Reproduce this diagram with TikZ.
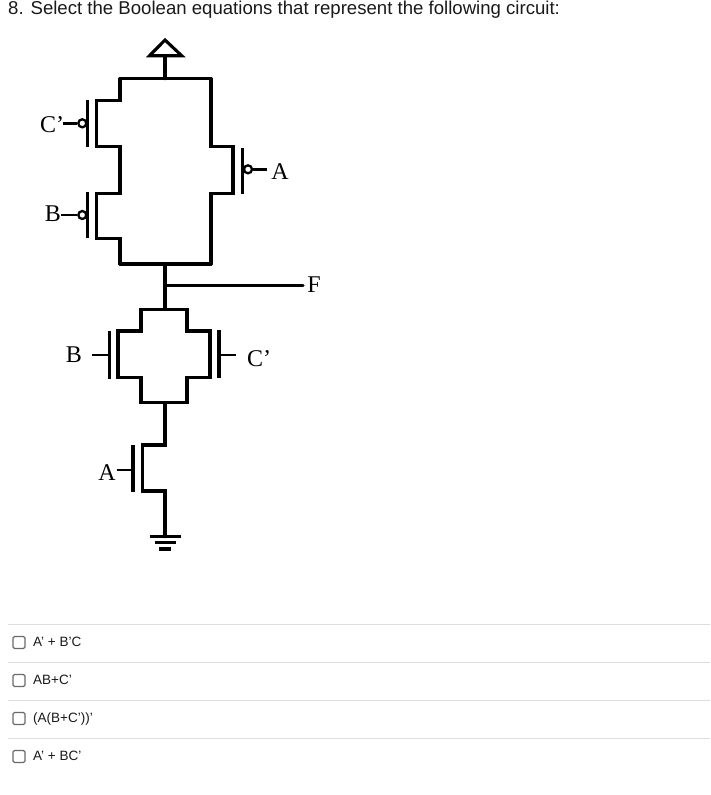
\documentclass[tikz,border=0pt]{standalone}
\usepackage{fontspec}
\setmainfont{Liberation Sans}
\newfontfamily\serifcirc{Liberation Serif}
\definecolor{rulegrey}{HTML}{DDDDDD}
\definecolor{boxgrey}{HTML}{6A6A6A}
\definecolor{qtext}{HTML}{1A1A1A}
\tikzset{
  wire/.style={line width=3.1pt,black,line cap=round,line join=miter},
  lead/.style={line width=2.7pt,black},
  gatebar/.style={line width=3.3pt,black},
  bubble/.style={circle,draw=black,fill=white,line width=2.3pt,minimum size=8pt,inner sep=0pt},
  siglabel/.style={font=\serifcirc\fontsize{24}{24}\selectfont,inner sep=0pt,text=black},
  question/.style={font=\fontsize{18.6}{20}\selectfont,inner sep=0pt,anchor=base west,text=qtext},
  answer/.style={font=\fontsize{13.5}{16}\selectfont,inner sep=0pt,anchor=base west,text=qtext},
  tick/.style={draw=boxgrey,line width=1.3pt,rounded corners=1.5pt,minimum size=12pt,inner sep=0pt},
  sep/.style={draw=rulegrey,line width=1pt}
}
\begin{document}
\begin{tikzpicture}[x=1pt,y=-1pt]
\useasboundingbox (0,0) rectangle (710,795);
\clip (0,0) rectangle (710,795);
\fill[white] (0,0) rectangle (710,795);

\node[question] (q) at (8,14) {8. Select the Boolean equations that represent the following circuit:};

% supply
\coordinate (vddL) at (149.5,55.7);
\coordinate (vddR) at (181.7,55.7);
\coordinate (vddA) at (165,40);
\coordinate (vddS) at (165,55.7);
\coordinate (topM) at (165,78.7);
\coordinate (topL) at (120,78.7);
\coordinate (topR) at (211,78.7);
\coordinate (botL) at (120,264);
\coordinate (botR) at (211,264);
\coordinate (botM) at (165,264);
\draw[wire,line join=miter] (vddA) -- (vddR) -- (vddL) -- cycle;
\draw[wire] (vddS) -- (topM);

% pull-up network
\draw[wire] (topL) -- (topR);
\draw[wire] (botL) -- (botR);
\draw[wire] (topL) -- (120,100.7) -- (96.7,100.7) -- (96.7,146.7) -- (120,146.7)
  -- (120,193.3) -- (96.7,193.3) -- (96.7,238.3) -- (120,238.3) -- (botL);
\draw[wire] (topR) -- (211,146.7) -- (233,146.7) -- (233,193.3) -- (211,193.3) -- (botR);

% P gates
\draw[gatebar] (87.7,100) -- (87.7,147);
\draw[gatebar] (87.7,192) -- (87.7,238);
\draw[gatebar] (242.7,148) -- (242.7,193.5);
\node[bubble] (bC) at (82.3,123.3) {};
\node[bubble] (bB) at (82.3,215) {};
\node[bubble] (bA) at (248,169.3) {};
\node[siglabel] (lC) at (52,124.5) {C’};
\node[siglabel] (lB) at (53,213.5) {B};
\node[siglabel] (lA) at (280,172) {A};
\draw[lead] (63,123.3) -- (bC);
\draw[lead] (lB.east) ++(0,1.5) -- (bB);
\draw[lead] (bA) -- (267,169.3);

% output
\coordinate (outJ) at (165,285.7);
\coordinate (nTop) at (165,309.3);
\node[siglabel] (lF) at (314,285) {F};
\draw[wire] (botM) -- (nTop);
\draw[wire] (outJ) -- (303,285.7);

% pull-down parallel pair
\draw[wire] (141,309.3) -- (187,309.3) -- (187,331) -- (210,331) -- (210,377.3) -- (187,377.3)
  -- (187,402.7) -- (141,402.7) -- (141,377.7) -- (118,377.7) -- (118,331) -- (141,331) -- cycle;
\draw[gatebar] (109.3,331) -- (109.3,378.7);
\draw[gatebar] (219,330) -- (219,377.5);
\coordinate (gB) at (109.3,355);
\coordinate (gC) at (219,355);
\node[siglabel] (lB2) at (74,355) {B};
\node[siglabel] (lC2) at (259,359) {C’};
\draw[lead] (92,355) -- (gB);
\draw[lead] (gC) -- (236,355);

% pull-down series device
\coordinate (nMid) at (165,402.7);
\coordinate (gnd) at (165,536.7);
\draw[wire] (nMid) -- (165,445) -- (142.3,445) -- (142.3,491) -- (165,491) -- (gnd);
\draw[gatebar] (133,445) -- (133,492);
\coordinate (gA) at (133,470);
\node[siglabel] (lA2) at (107,473) {A};
\draw[lead] (116.7,470) -- (gA);

% ground
\draw[wire,line cap=butt] (150,536.7) -- (180.5,536.7);
\draw[wire,line cap=butt] (155,542.5) -- (176,542.5);
\draw[wire,line cap=butt] (159,549) -- (171,549);

% answers
\foreach \y in {624.5,662.5,700.5,738.5} \draw[sep] (8,\y) -- (710,\y);
\node[tick] (c1) at (19,642.5) {};
\node[tick] (c2) at (19,680.5) {};
\node[tick] (c3) at (19,718.5) {};
\node[tick] (c4) at (19,756.5) {};
\node[answer] (a1) at (33,646) {A' + B'C};
\node[answer] (a2) at (33,684) {AB+C'};
\node[answer] (a3) at (33,722) {(A(B+C'))'};
\node[answer] (a4) at (33,760) {A' + BC'};
\end{tikzpicture}
\end{document}
